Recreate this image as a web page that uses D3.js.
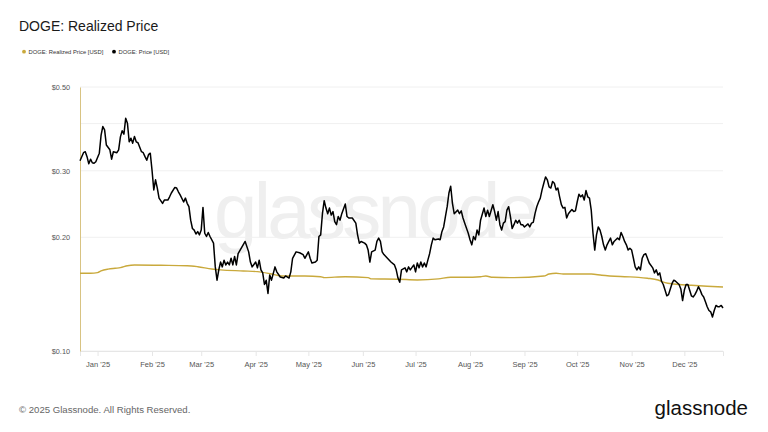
<!DOCTYPE html>
<html>
<head>
<meta charset="utf-8">
<script src="https://cdn.jsdelivr.net/npm/d3@7"></script>
<style>
  body { margin: 0; background: #fff; }
  svg { display: block; font-family: "Liberation Sans", Arial, sans-serif; }
</style>
</head>
<body>
<svg id="chart" width="768" height="432"></svg>
<script>
// days counted from 2025-01-01, values in USD
const priceDays = [-10,-8,-7,-6,-5,-4,-3,-2,-1,1,2,3,4,5,7,8,9,11,12,13,14,15,16,17,18,19,20,21,22,23,25,26,27,28,29,30,31,32,33,34,35,37,38,40,41,42,44,45,46,47,49,50,51,52,53,54,55,56,57,58,59,60,61,62,63,64,66,67,68,69,70,71,72,73,74,75,76,77,78,79,80,84,86,87,88,90,91,92,93,94,95,96,97,98,99,101,102,104,106,107,109,110,111,113,115,117,118,120,121,122,124,125,126,127,128,129,130,131,132,133,134,135,136,137,138,139,141,142,143,145,147,148,149,150,152,153,154,155,156,158,159,160,161,162,163,165,167,169,170,171,172,173,175,176,177,178,180,181,182,183,184,185,186,187,188,189,190,191,192,194,195,196,197,198,199,200,201,202,203,205,206,207,208,209,211,212,213,214,215,216,217,218,220,221,222,223,225,226,227,228,229,230,231,232,233,234,235,236,237,238,239,240,241,242,243,245,246,247,248,249,250,251,252,253,254,255,256,257,258,259,260,261,262,263,264,265,266,267,268,269,270,271,272,273,274,275,276,277,278,279,280,281,282,283,284,285,286,287,288,289,290,291,292,293,294,295,296,297,298,299,300,301,302,303,304,305,306,307,308,309,310,311,312,313,314,316,317,318,319,320,321,322,323,324,325,326,327,328,329,331,332,333,334,335,336,337,338,339,340,341,342,343,344,345,346,347,348,349,350,351,352,353,354,355,356];
const priceValues = [0.319,0.335,0.337,0.327,0.313,0.322,0.315,0.314,0.317,0.334,0.373,0.393,0.385,0.351,0.341,0.322,0.337,0.335,0.341,0.369,0.383,0.375,0.413,0.401,0.358,0.366,0.355,0.370,0.358,0.356,0.337,0.335,0.327,0.320,0.331,0.334,0.301,0.267,0.284,0.270,0.254,0.246,0.251,0.251,0.256,0.262,0.271,0.270,0.264,0.259,0.248,0.254,0.246,0.241,0.222,0.211,0.209,0.204,0.207,0.203,0.209,0.240,0.205,0.201,0.206,0.201,0.193,0.167,0.154,0.164,0.172,0.167,0.174,0.169,0.172,0.169,0.176,0.169,0.178,0.169,0.181,0.195,0.183,0.172,0.167,0.172,0.166,0.174,0.164,0.161,0.150,0.154,0.142,0.159,0.154,0.167,0.162,0.157,0.156,0.158,0.156,0.162,0.176,0.183,0.182,0.180,0.176,0.183,0.176,0.171,0.172,0.174,0.201,0.203,0.231,0.250,0.239,0.231,0.239,0.229,0.234,0.220,0.216,0.227,0.222,0.231,0.245,0.227,0.225,0.225,0.218,0.203,0.193,0.195,0.193,0.191,0.185,0.172,0.183,0.185,0.195,0.199,0.195,0.183,0.180,0.176,0.172,0.169,0.164,0.156,0.152,0.164,0.166,0.162,0.167,0.164,0.169,0.162,0.171,0.166,0.172,0.167,0.171,0.167,0.174,0.181,0.191,0.199,0.197,0.198,0.197,0.207,0.213,0.227,0.241,0.262,0.273,0.246,0.231,0.236,0.231,0.235,0.225,0.218,0.205,0.197,0.191,0.201,0.197,0.209,0.203,0.222,0.239,0.227,0.236,0.227,0.244,0.234,0.222,0.234,0.216,0.209,0.218,0.220,0.236,0.241,0.227,0.211,0.216,0.222,0.218,0.222,0.216,0.216,0.213,0.217,0.213,0.218,0.219,0.231,0.241,0.248,0.254,0.267,0.278,0.289,0.284,0.272,0.270,0.281,0.278,0.267,0.270,0.256,0.244,0.239,0.240,0.225,0.231,0.234,0.237,0.234,0.235,0.248,0.260,0.256,0.259,0.251,0.266,0.256,0.254,0.236,0.205,0.185,0.203,0.213,0.209,0.201,0.191,0.185,0.191,0.195,0.199,0.191,0.195,0.197,0.199,0.197,0.206,0.201,0.195,0.191,0.185,0.187,0.185,0.176,0.167,0.164,0.167,0.164,0.176,0.180,0.181,0.176,0.171,0.166,0.161,0.164,0.159,0.161,0.153,0.150,0.145,0.140,0.141,0.146,0.151,0.154,0.153,0.150,0.146,0.136,0.145,0.150,0.150,0.145,0.140,0.139,0.141,0.144,0.148,0.145,0.141,0.139,0.135,0.131,0.128,0.127,0.123,0.128,0.132,0.131,0.131,0.132,0.130];

const realizedDays = [-10,-4,0,2,6,10,13,17,21,36,51,57,65,70,83,91,99,105,118,127,129,141,154,156,171,182,194,201,209,218,221,225,237,254,257,261,265,272,281,287,300,308,313,319,323,328,338,347,356];
const realizedValues = [0.1606,0.1606,0.1612,0.1629,0.1647,0.1656,0.1662,0.1682,0.1689,0.1686,0.1682,0.1672,0.1649,0.1640,0.1629,0.1622,0.1599,0.1579,0.1579,0.1573,0.1564,0.1573,0.1564,0.1552,0.1549,0.1542,0.1552,0.1567,0.1567,0.1573,0.1579,0.1567,0.1564,0.1579,0.1599,0.1606,0.1599,0.1599,0.1599,0.1587,0.1573,0.1567,0.1558,0.1542,0.1517,0.1504,0.1493,0.1484,0.1477];

const yTicks = [0.1, 0.2, 0.3, 0.5];
const yGrid = [0.1, 0.2, 0.3, 0.4, 0.5];
const seriesNames = ["DOGE: Realized Price [USD]", "DOGE: Price [USD]"];

const gold = "#c9a93c";
const base = Date.UTC(2025, 0, 1);
const toDate = d => d3.utcDay.offset(new Date(base), d);

const price = priceDays.map((d, i) => ({ date: toDate(d), value: priceValues[i] }));
const realized = realizedDays.map((d, i) => ({ date: toDate(d), value: realizedValues[i] }));

const svg = d3.select("#chart");
const plot = { left: 80, right: 723, top: 87, bottom: 351 };

const x = d3.scaleUtc()
  .domain([toDate(-10), toDate(356)])
  .range([plot.left, plot.right]);
const y = d3.scaleLog()
  .domain([0.1, 0.5])
  .range([plot.bottom, plot.top]);

// title + legend
svg.append("text").attr("x", 19).attr("y", 31)
  .attr("font-size", 14).attr("fill", "#1a1a1a").text("DOGE: Realized Price");

const legend = svg.append("g").attr("font-size", 5.8).attr("fill", "#333");
legend.append("circle").attr("cx", 24).attr("cy", 51.7).attr("r", 1.9).attr("fill", gold);
legend.append("text").attr("x", 28.5).attr("y", 53.7).text(seriesNames[0]);
legend.append("circle").attr("cx", 114).attr("cy", 51.7).attr("r", 1.9).attr("fill", "#000");
legend.append("text").attr("x", 118.5).attr("y", 53.7).text(seriesNames[1]);

// watermark
svg.append("text").attr("x", 214).attr("y", 238)
  .attr("font-size", 78).attr("fill", "#efefef")
  .attr("textLength", 326).attr("lengthAdjust", "spacing")
  .text("glassnode");

// grid
svg.append("g").selectAll("line").data(yGrid).join("line")
  .attr("x1", plot.left).attr("x2", plot.right)
  .attr("y1", d => y(d)).attr("y2", d => y(d))
  .attr("stroke", "#f0f0f0").attr("stroke-width", 1);

// x axis
const months = d3.utcMonth.range(new Date(Date.UTC(2025, 0, 1)), new Date(Date.UTC(2025, 11, 2)));
const xAxis = svg.append("g").attr("transform", `translate(0,${plot.bottom})`)
  .call(d3.axisBottom(x).tickValues(months).tickFormat(d3.utcFormat("%b '%y")).tickSize(5).tickPadding(6));
xAxis.select(".domain").attr("stroke", "#e6e6e6");
xAxis.selectAll(".tick line").attr("stroke", "#e6e6e6");
xAxis.selectAll("text").attr("font-size", 7.5).attr("fill", "#555")
  .attr("font-family", "Liberation Sans, Arial, sans-serif");

// y axis
const yAxis = svg.append("g").attr("transform", `translate(${plot.left},0)`)
  .call(d3.axisLeft(y).tickValues(yTicks).tickFormat(d3.format("$.2f")).tickSize(0).tickPadding(10));
yAxis.select(".domain").attr("stroke", "#d8c382").attr("stroke-width", 1);
yAxis.selectAll("text").attr("font-size", 7.3).attr("fill", "#555")
  .attr("font-family", "Liberation Sans, Arial, sans-serif");

// series
svg.append("path").datum(realized)
  .attr("fill", "none").attr("stroke", gold).attr("stroke-width", 1.4)
  .attr("d", d3.line().x(d => x(d.date)).y(d => y(d.value)).curve(d3.curveMonotoneX));

svg.append("path").datum(price)
  .attr("fill", "none").attr("stroke", "#000").attr("stroke-width", 1.5)
  .attr("stroke-linejoin", "round")
  .attr("d", d3.line().x(d => x(d.date)).y(d => y(d.value)));

// footer
svg.append("text").attr("x", 19).attr("y", 413)
  .attr("font-size", 9.6).attr("fill", "#666")
  .text("© 2025 Glassnode. All Rights Reserved.");
svg.append("text").attr("x", 748).attr("y", 415)
  .attr("text-anchor", "end").attr("font-size", 20.5).attr("fill", "#111")
  .text("glassnode");
</script>
</body>
</html>
